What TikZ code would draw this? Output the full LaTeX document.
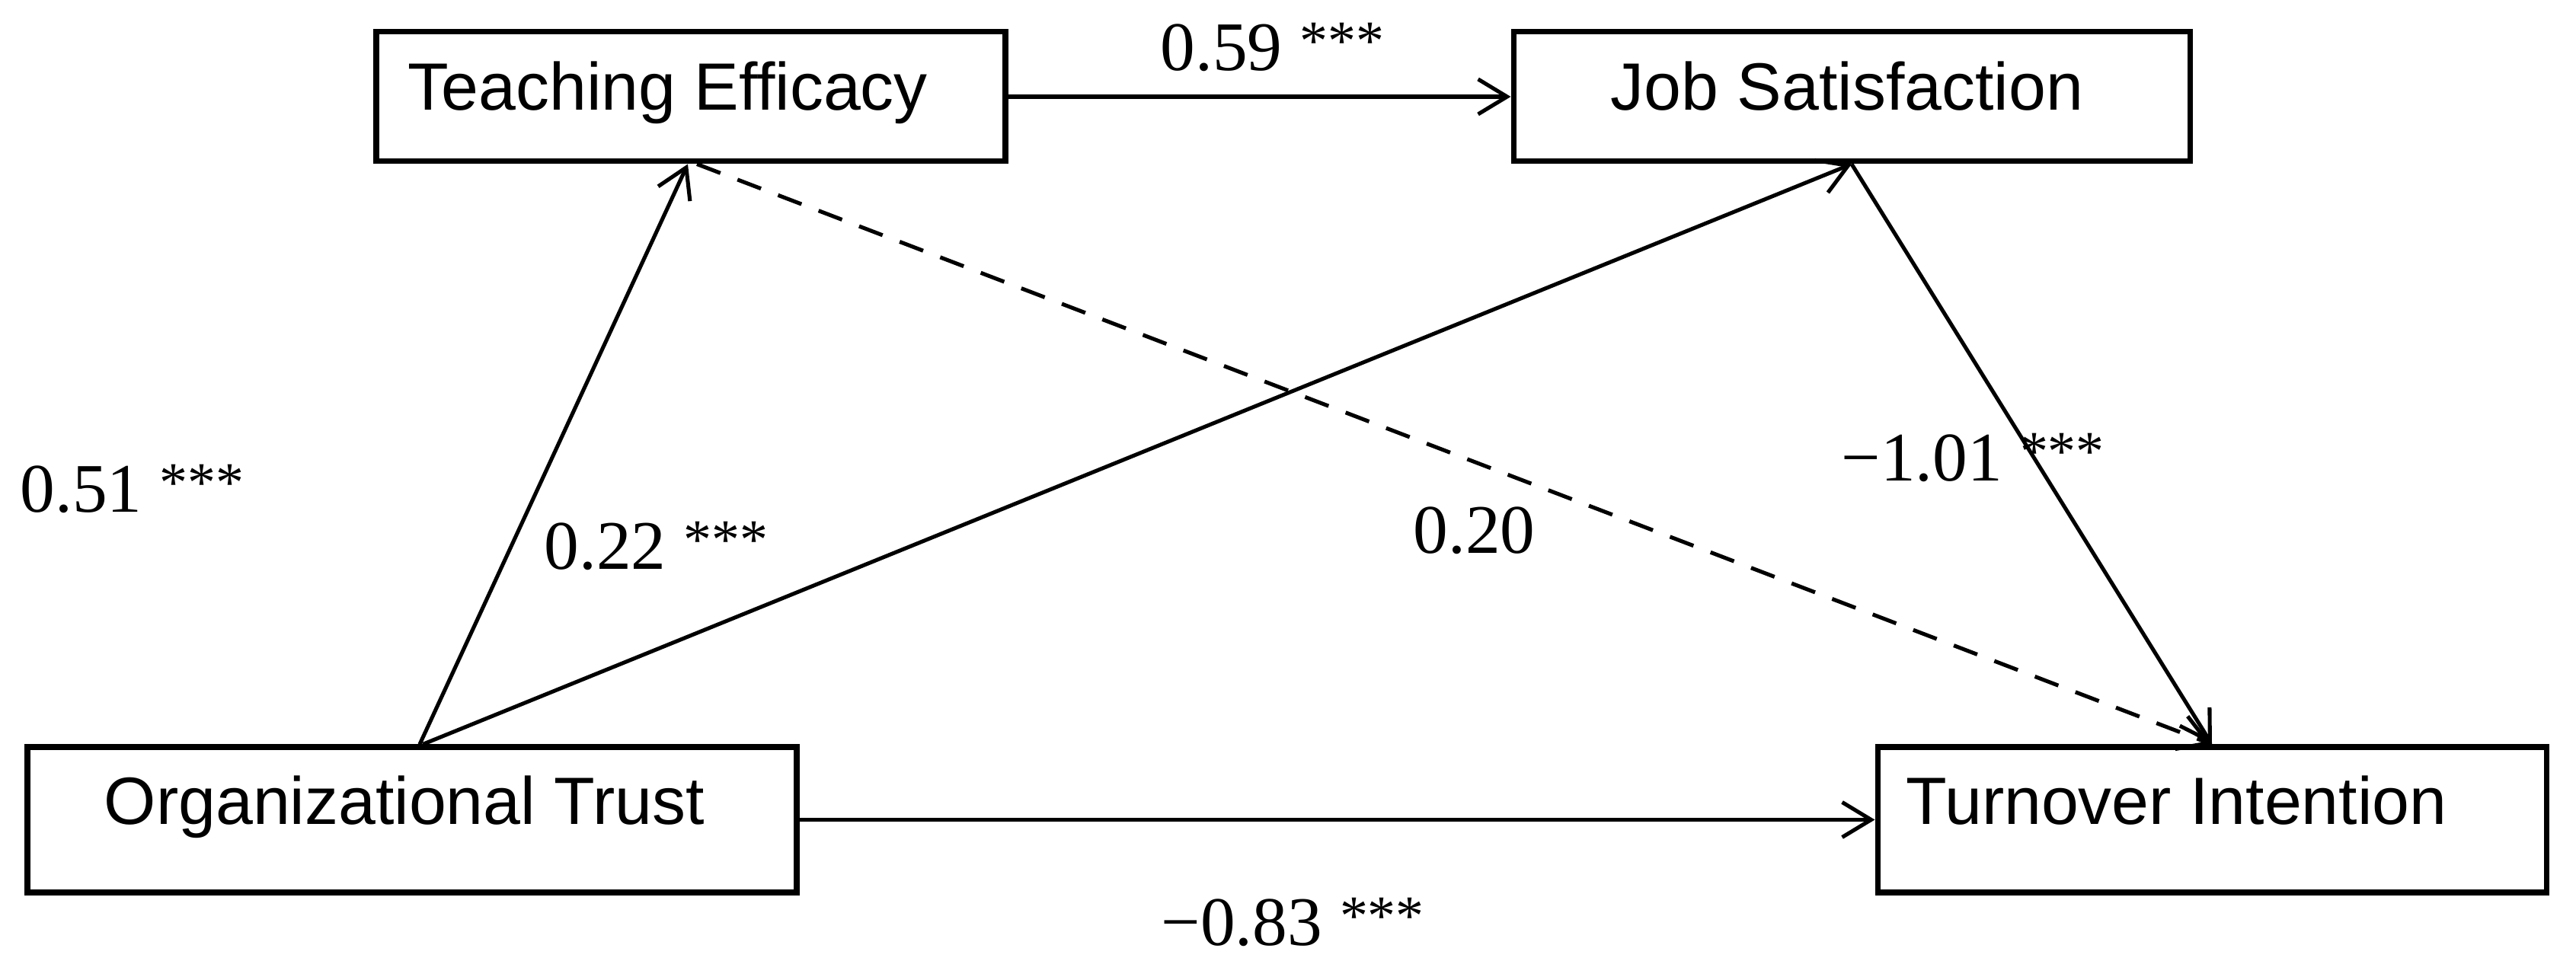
\documentclass[tikz,border=0pt]{standalone}
\usepackage{fontspec}
\setmainfont{Liberation Serif}
\setsansfont{Liberation Sans}
\usepackage{tikz}
\usetikzlibrary{positioning, arrows.meta, calc}

\newcommand{\sigstars}{\raisebox{0.14cm}{\fontsize{21}{25}\selectfont ***}}

\begin{document}
\begin{tikzpicture}[
    construct/.style={rectangle, draw=black, line width=2pt, inner sep=0pt},
    boxlabel/.style={anchor=base west, inner sep=0pt,
                     font=\sffamily\fontsize{25}{30}\selectfont},
    coef/.style={anchor=base west, inner sep=0pt, font=\fontsize{26}{31}\selectfont},
    effect/.style={line width=1.45pt, -{Straight Barb[length=0.38cm, width=0.46cm]}}
]
    \useasboundingbox (0, 0) rectangle (33.82, 12.62);

    % Constructs
    \node[construct, minimum width=8.26cm, minimum height=1.70cm] (te) at (9.07, 11.35) {};
    \node[construct, minimum width=8.88cm, minimum height=1.70cm] (js) at (24.31, 11.35) {};
    \node[construct, minimum width=10.10cm, minimum height=1.91cm] (ot) at (5.41, 1.855) {};
    \node[construct, minimum width=8.78cm, minimum height=1.91cm] (ti) at (29.04, 1.855) {};

    \node[boxlabel] (te-text) at (5.35, 11.17) {Teaching Efficacy};
    \node[boxlabel] (js-text) at (21.14, 11.17) {Job Satisfaction};
    \node[boxlabel] (ot-text) at (1.36, 1.79) {Organizational Trust};
    \node[boxlabel] (ti-text) at (25.02, 1.79) {Turnover Intention};

    % Paths
    \draw[effect] (te) -- (js);
    \draw[effect] ($(ot.north)+(0.10, 0)$) -- ($(te.south)+(-0.04, 0)$);
    \draw[effect] ($(ot.north)+(0.14, 0)$) -- (js.south);
    \draw[effect, dash pattern=on 0.33cm off 0.24cm] ($(te.south)+(0.08, 0)$) -- (ti.north);
    \draw[effect] (js.south) -- (ti.north);
    \draw[effect] (ot) -- (ti);

    % Coefficients
    \node[coef] (c-te-js) at (15.23, 11.69) {0.59 \sigstars};
    \node[coef] (c-ot-te) at (0.26, 5.89) {0.51 \sigstars};
    \node[coef] (c-ot-js) at (7.14, 5.14) {0.22 \sigstars};
    \node[coef] (c-te-ti) at (18.55, 5.35) {0.20};
    \node[coef] (c-js-ti) at (24.17, 6.30) {−1.01 \sigstars};
    \node[coef] (c-ot-ti) at (15.24, 0.20) {−0.83 \sigstars};

\end{tikzpicture}
\end{document}
